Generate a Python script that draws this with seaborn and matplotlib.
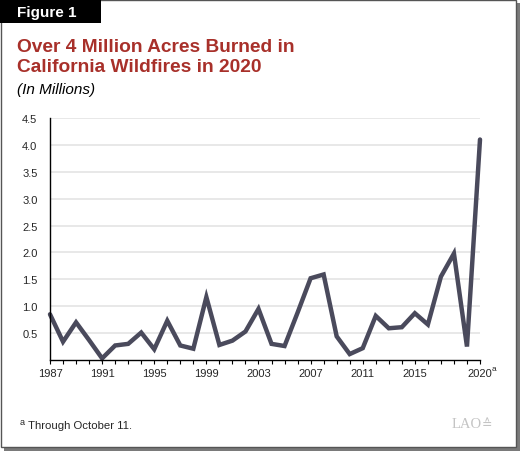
import matplotlib
matplotlib.use("Agg")
import matplotlib.pyplot as plt
from matplotlib.patches import Rectangle
import pandas as pd
import seaborn as sns

years = list(range(1987, 2021))
acres = [0.85, 0.34, 0.70, 0.37, 0.03, 0.27, 0.30, 0.51, 0.20, 0.73,
         0.27, 0.21, 1.17, 0.28, 0.36, 0.53, 0.95, 0.30, 0.26, 0.88,
         1.52, 1.59, 0.44, 0.11, 0.22, 0.82, 0.59, 0.61, 0.87, 0.66,
         1.55, 1.98, 0.25, 4.10]
label_years = [1987, 1991, 1995, 1999, 2003, 2007, 2011, 2015, 2020]
y_ticks = [0.5, 1.0, 1.5, 2.0, 2.5, 3.0, 3.5, 4.0, 4.5]

df = pd.DataFrame({"year": years, "acres": acres})

sns.set_theme(style="white")
plt.rcParams['font.family'] = ['Liberation Sans', 'DejaVu Sans']

W, H = 520, 456
fig = plt.figure(figsize=(W / 100, H / 100), dpi=100)
fig.patch.set_facecolor("white")

def fx(x):
    return x / W

def fy(y):
    return 1 - y / H

# frame and shadow
fig.add_artist(Rectangle((fx(4), fy(452)), fx(516), 448 / H, transform=fig.transFigure,
                         facecolor="#7a7a7a", edgecolor="none", zorder=-20))
fig.add_artist(Rectangle((fx(0.5), fy(448)), fx(515), 447.5 / H, transform=fig.transFigure,
                         facecolor="white", edgecolor="#555555", linewidth=1.0, zorder=-19))
# Figure label box
fig.add_artist(Rectangle((fx(0), fy(24)), fx(101), 24 / H, transform=fig.transFigure,
                         facecolor="black", edgecolor="none", zorder=-18))
fig.text(fx(17), fy(12.5), "Figure 1", color="white", fontsize=11, fontweight="bold",
         va="center", ha="left")

fig.text(fx(17), fy(52), "Over 4 Million Acres Burned in", color="#A8302A",
         fontsize=13.8, fontweight="bold", va="baseline", ha="left")
fig.text(fx(17), fy(72), "California Wildfires in 2020", color="#A8302A",
         fontsize=13.8, fontweight="bold", va="baseline", ha="left")
fig.text(fx(17), fy(94), "(In Millions)", color="black", fontsize=11, fontstyle="italic",
         va="baseline", ha="left")

ax = fig.add_axes([fx(50), fy(361), fx(430), (361 - 119) / H])
ax.set_facecolor("none")
sns.lineplot(data=df, x="year", y="acres", ax=ax, color="#4A4A5C", linewidth=3.2,
             solid_joinstyle="miter", clip_on=False)
ax.set_xlim(1987, 2020)
ax.set_ylim(0, 4.5)
ax.set_yticks(y_ticks)
ax.set_yticklabels([f"{v:.1f}" for v in y_ticks], fontsize=8)
ax.set_xticks(years)
ax.set_xticklabels([str(y) if y in label_years else "" for y in years], fontsize=8)
ax.tick_params(axis="y", length=0, pad=9)
ax.tick_params(axis="x", length=3, width=0.8, color="black", pad=3, direction="out", bottom=True)
ax.grid(axis="y", color="#e4e4e4", linewidth=1.2)
ax.set_axisbelow(True)
for s in ["top", "right"]:
    ax.spines[s].set_visible(False)
for s in ["left", "bottom"]:
    ax.spines[s].set_color("black")
    ax.spines[s].set_linewidth(1.0)
ax.set_xlabel("")
ax.set_ylabel("")

fig.text(fx(492), fy(371), "a", fontsize=6, ha="left", va="baseline")

fig.text(fx(20), fy(425), "a", fontsize=6.5, ha="left", va="baseline")
fig.text(fx(28), fy(429), "Through October 11.", fontsize=8.2, ha="left", va="baseline")
fig.text(fx(452), fy(428), "LAO", fontsize=10.5, ha="left", va="baseline", color="#c4c4c4",
         family=["Liberation Serif", "DejaVu Serif"])
fig.text(fx(482), fy(428), "\u2259", fontsize=9, ha="left", va="baseline", color="#c4c4c4")

fig.savefig("out.png", dpi=100, facecolor="white")
